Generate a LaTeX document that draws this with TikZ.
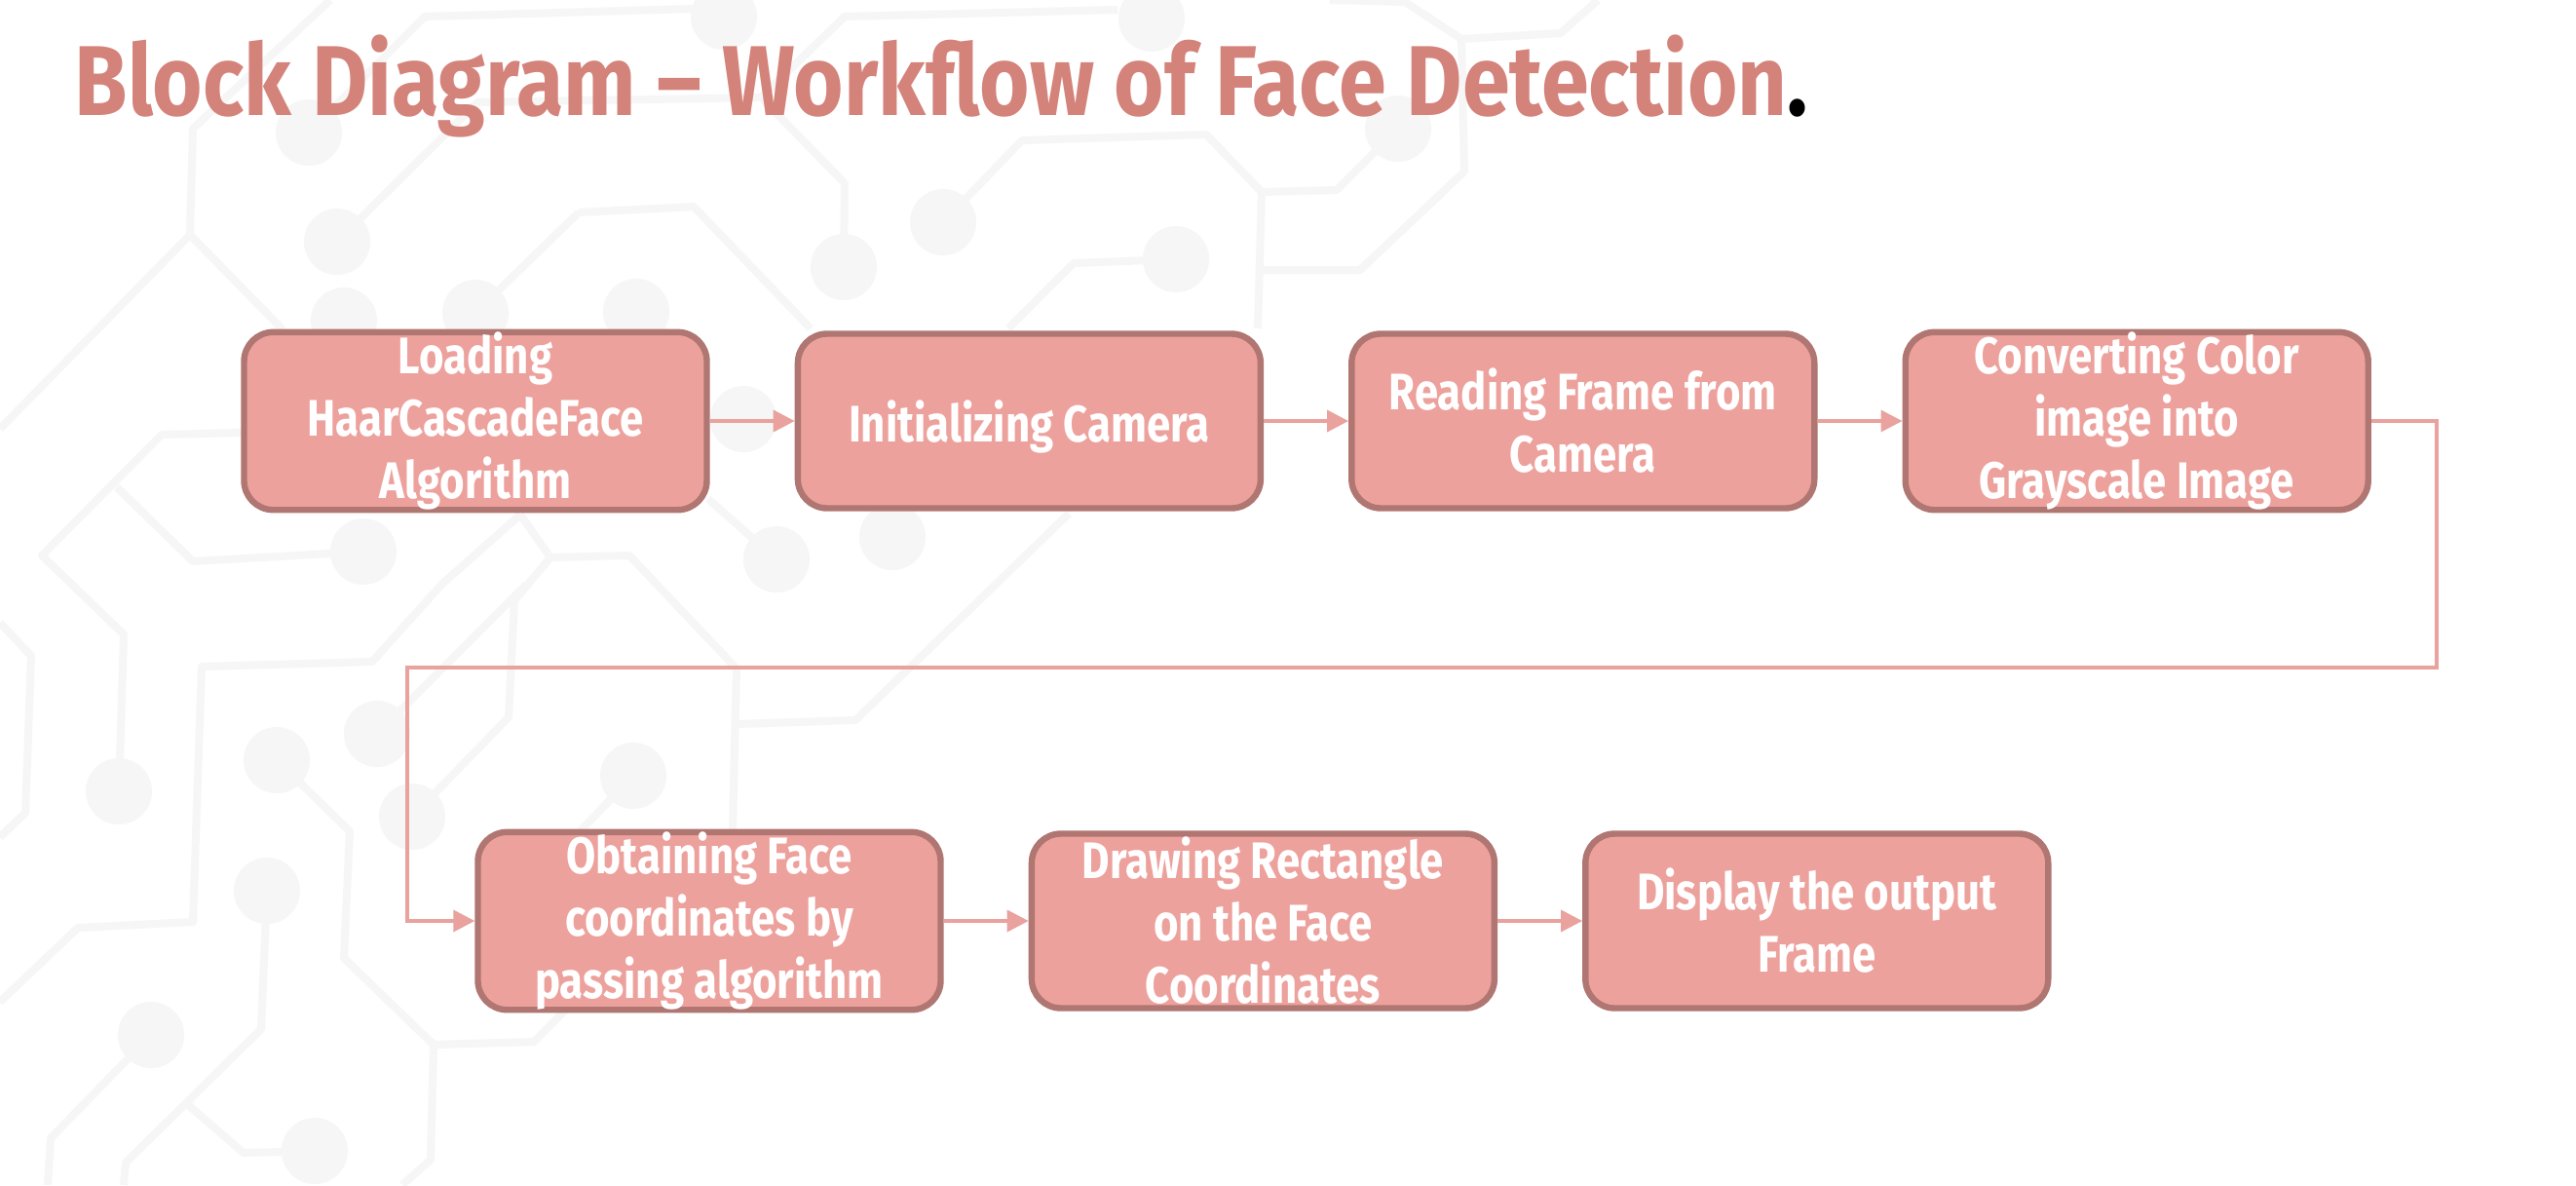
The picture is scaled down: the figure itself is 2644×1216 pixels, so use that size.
\documentclass[tikz,border=0pt]{standalone}
\usepackage{fontspec}
\setmainfont{Fira Sans}[FakeStretch=0.83]
\newfontfamily\titlefont{Fira Sans}[FakeStretch=0.865]
\usetikzlibrary{arrows.meta,positioning}

\definecolor{titlecol}{HTML}{D4837B}
\definecolor{boxfill}{HTML}{EDA19C}
\definecolor{boxline}{HTML}{B07672}
\definecolor{linkcol}{HTML}{E9A29D}
\definecolor{circuit}{HTML}{F6F6F6}

\begin{document}
\begin{tikzpicture}[
    x=0.1mm, y=-0.1mm,
    node distance=0.87cm,
    block/.style={draw=boxline, fill=boxfill, line width=0.64mm, rounded corners=3mm, align=center, inner sep=0pt,
                  minimum width=4.75cm, minimum height=1.79cm, text=white, font=\bfseries\fontsize{15}{18.2}\selectfont,
                  execute at begin node={\rule{0pt}{1.05em}}},
    arrow/.style={-{Triangle[length=2.2mm, width=2.2mm]}, draw=linkcol, line width=0.36mm},
    wire/.style={draw=circuit, line width=0.8mm, line join=round}
]
\fill[white] (0,0) rectangle (2644,1216);
\useasboundingbox (0,0) rectangle (2644,1216);

% background circuit
\draw[wire] (339,0) -- (198,132) -- (195,241) -- (0,440);
\draw[wire] (195,241) -- (290,338);
\draw[wire] (317,136) -- (436,17) -- (712,9);
\draw[wire] (346,248) -- (490,105) -- (781,100) -- (867,188) -- (866,274);
\draw[wire] (781,100) -- (867,17) -- (1147,10);
\draw[wire] (594,218) -- (712,212) -- (832,337);
\draw[wire] (594,218) -- (488,321);
\draw[wire] (968,228) -- (1049,144) -- (1238,138) -- (1295,197) -- (1372,195) -- (1435,132);
\draw[wire] (1295,197) -- (1291,337);
\draw[wire] (1294,277) -- (1396,277) -- (1503,176) -- (1500,40) -- (1602,34) -- (1640,0);
\draw[wire] (1365,0) -- (1442,2) -- (1500,40);
\draw[wire] (1207,266) -- (1102,270) -- (1035,337);
\draw[wire] (248,444) -- (166,446) -- (43,570) -- (127,651) -- (122,812);
\draw[wire] (120,500) -- (198,576) -- (373,566);
\draw[wire] (727,512) -- (797,574);
\draw[wire] (534,528) -- (453,600) -- (382,679) -- (207,684) -- (198,946) -- (80,952) -- (0,1028);
\draw[wire] (565,572) -- (646,570) -- (756,686) -- (752,851);
\draw[wire] (756,743) -- (878,739) -- (1097,527);
\draw[wire] (423,838) -- (522,736) -- (528,616) -- (565,572) -- (534,528);
\draw[wire] (387,753) -- (540,600);
\draw[wire] (284,780) -- (359,853) -- (353,983) -- (445,1072) -- (548,1069) -- (643,973);
\draw[wire] (445,1072) -- (442,1190) -- (413,1216);
\draw[wire] (274,914) -- (268,1056) -- (129,1193) -- (127,1216);
\draw[wire] (155,1062) -- (52,1168) -- (49,1216);
\draw[wire] (191,1132) -- (250,1183) -- (323,1181);
\draw[wire] (0,639) -- (32,673) -- (26,834) -- (0,859);
\draw[wire] (650,796) -- (551,899);
\foreach \p in {(317,136),(743,17),(1182,19),(866,274),(346,248),(488,321),(353,329),(653,320),
                (968,228),(1435,132),(1207,266),(763,430),(373,566),(797,574),(916,551),(122,812),
                (387,753),(423,838),(284,780),(274,914),(650,796),(155,1062),(323,1181)}
    \fill[circuit] \p circle (3.4mm);

\node[anchor=base west, text=titlecol, inner sep=0pt, font=\titlefont\bfseries\fontsize{29}{34}\selectfont] (title) at (76,118)
    {Block Diagram – Workflow of Face Detection\textcolor{black}{.}};

\node[block] (load) at (488,432) {Loading\\HaarCascadeFace\\Algorithm};
\node[block, right=of load] (init) {Initializing Camera};
\node[block, right=of init] (read) {Reading Frame from\\Camera};
\node[block, right=of read] (convert) {Converting Color\\image into\\Grayscale Image};
\node[block] (obtain) at (728,945) {Obtaining Face\\coordinates by\\passing algorithm};
\node[block, right=of obtain] (rect) {Drawing Rectangle\\on the Face\\Coordinates};
\node[block, right=of rect] (show) {Display the output\\Frame};
\coordinate (turn) at (418,685);

\draw[arrow] (load) -- (init);
\draw[arrow] (init) -- (read);
\draw[arrow] (read) -- (convert);
\draw[arrow] (convert.east) -- ++(67,0) |- (turn) |- (obtain.west);
\draw[arrow] (obtain) -- (rect);
\draw[arrow] (rect) -- (show);
\end{tikzpicture}
\end{document}
